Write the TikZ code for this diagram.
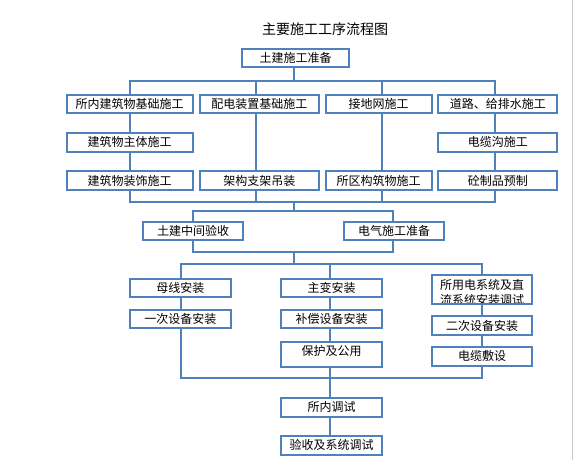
\documentclass[tikz,border=0pt]{standalone}
\usepackage{fontspec}
\setmainfont{Noto Sans CJK SC}
\definecolor{lnblue}{HTML}{4F81BD}
\definecolor{edgegray}{HTML}{CCCCCC}
\tikzset{
  box/.style={draw=lnblue, line width=2pt, fill=white, inner sep=0pt, outer sep=0pt,
    font=\fontsize{12}{12}\selectfont, text=black},
  conn/.style={draw=lnblue, line width=2pt},
  ttl/.style={font=\fontsize{14}{14}\selectfont, text=black}
}
\begin{document}
\begin{tikzpicture}[x=1pt,y=-1pt]
\useasboundingbox (0,0) rectangle (574,460);
\draw[edgegray, line width=1pt] (572.5,0) -- (572.5,460);
\node[ttl] (title) at (325,29) {主要施工工序流程图};
% column / bus coordinates
\coordinate (cA) at (130,0);
\coordinate (cB) at (255.7,0);
\coordinate (cC) at (381.7,0);
\coordinate (cD) at (495,0);
\coordinate (cM) at (294,0);
\coordinate (cE1) at (193.3,0);
\coordinate (cE2) at (393.3,0);
\coordinate (cF) at (180.7,0);
\coordinate (cG) at (330,0);
\coordinate (cH) at (482.3,0);
\coordinate (y1) at (0,81.3);
\coordinate (y2) at (0,201.7);
\coordinate (y3) at (0,210.7);
\coordinate (y4) at (0,252.3);
\coordinate (y5) at (0,264);
\coordinate (y6) at (0,378.3);
% boxes
\node[box, minimum width=106.7pt, minimum height=18.3pt] (top) at (295.65,58.15) {土建施工准备};
\node[box, minimum width=126pt, minimum height=18.3pt] (a1) at (129.7,104.15) {所内建筑物基础施工};
\node[box, minimum width=118.7pt, minimum height=18.3pt] (b1) at (259.35,104.15) {配电装置基础施工};
\node[box, minimum width=106pt, minimum height=18.3pt] (c1) at (378.7,104.15) {接地网施工};
\node[box, minimum width=119pt, minimum height=18.3pt] (d1) at (497.8,104.15) {道路、给排水施工};
\node[box, minimum width=126pt, minimum height=19.3pt] (a2) at (129.7,142.35) {建筑物主体施工};
\node[box, minimum width=119pt, minimum height=19.3pt] (d2) at (497.8,142.35) {电缆沟施工};
\node[box, minimum width=126pt, minimum height=19pt] (a3) at (129.7,180.5) {建筑物装饰施工};
\node[box, minimum width=118.7pt, minimum height=19pt] (b3) at (259.35,180.5) {架构支架吊装};
\node[box, minimum width=106pt, minimum height=19pt] (c3) at (378.7,180.5) {所区构筑物施工};
\node[box, minimum width=119pt, minimum height=19pt] (d3) at (497.8,180.5) {砼制品预制};
\node[box, minimum width=100.6pt, minimum height=18pt] (e1) at (193,231) {土建中间验收};
\node[box, minimum width=100pt, minimum height=18pt] (e2) at (394,231) {电气施工准备};
\node[box, minimum width=100.7pt, minimum height=18pt] (f1) at (180.35,287.7) {母线安装};
\node[box, minimum width=101.3pt, minimum height=18pt] (g1) at (331.65,287.7) {主变安装};
\node[box, minimum width=100.6pt, minimum height=29pt] (h1) at (482,289.5) {};
\begin{scope}
  \clip (h1.south west) rectangle (h1.north east);
  \node[align=center, font=\fontsize{12}{15.5}\selectfont, text=black, inner sep=0pt] (h1t) at (482,292.6) {所用电系统及直\\流系统安装调试};
\end{scope}
\draw[lnblue, line width=2pt] (h1.south west) rectangle (h1.north east);
\node[box, minimum width=100.7pt, minimum height=18.3pt] (f2) at (180.35,319.15) {一次设备安装};
\node[box, minimum width=101.3pt, minimum height=18.3pt] (g2) at (331.65,319.15) {补偿设备安装};
\node[box, minimum width=101.3pt, minimum height=25pt] (g3) at (331.65,354.2) {};
\node[font=\fontsize{12}{12}\selectfont, text=black, inner sep=0pt] (g3t) at (331.65,350.7) {保护及公用};
\node[box, minimum width=100.6pt, minimum height=19pt] (h2) at (482,325.5) {二次设备安装};
\node[box, minimum width=100.6pt, minimum height=19pt] (h3) at (482,356.2) {电缆敷设};
\node[box, minimum width=101.3pt, minimum height=18.7pt] (k1) at (331.65,407.35) {所内调试};
\node[box, minimum width=101.3pt, minimum height=19.3pt] (k2) at (331.65,445.35) {验收及系统调试};
% connectors: top section
\draw[conn] (cM |- top.south) -- (cM |- y1);
\draw[conn] (cA |- a1.north) -- (cA |- y1) -- (cD |- y1) -- (cD |- d1.north);
\draw[conn] (cB |- b1.north) -- (cB |- y1);
\draw[conn] (cC |- c1.north) -- (cC |- y1);
\draw[conn] (cA |- a1.south) -- (cA |- a2.north);
\draw[conn] (cA |- a2.south) -- (cA |- a3.north);
\draw[conn] (cB |- b1.south) -- (cB |- b3.north);
\draw[conn] (cC |- c1.south) -- (cC |- c3.north);
\draw[conn] (cD |- d1.south) -- (cD |- d2.north);
\draw[conn] (cD |- d2.south) -- (cD |- d3.north);
% collect
\draw[conn] (cA |- a3.south) -- (cA |- y2) -- (cD |- y2) -- (cD |- d3.south);
\draw[conn] (cB |- b3.south) -- (cB |- y2);
\draw[conn] (cC |- c3.south) -- (cC |- y2);
\draw[conn] (cM |- y2) -- (cM |- y3);
\draw[conn] (cE1 |- e1.north) -- (cE1 |- y3) -- (cE2 |- y3) -- (cE2 |- e2.north);
\draw[conn] (cE1 |- e1.south) -- (cE1 |- y4) -- (cE2 |- y4) -- (cE2 |- e2.south);
\draw[conn] (cM |- y4) -- (cM |- y5);
\draw[conn] (cF |- f1.north) -- (cF |- y5) -- (cH |- y5) -- (cH |- h1.north);
\draw[conn] (cG |- g1.north) -- (cG |- y5);
\draw[conn] (cF |- f1.south) -- (cF |- f2.north);
\draw[conn] (cG |- g1.south) -- (cG |- g2.north);
\draw[conn] (cG |- g2.south) -- (cG |- g3.north);
\draw[conn] (cH |- h1.south) -- (cH |- h2.north);
\draw[conn] (cH |- h2.south) -- (cH |- h3.north);
\draw[conn] (cF |- f2.south) -- (cF |- y6) -- (cH |- y6) -- (cH |- h3.south);
\draw[conn] (cG |- g3.south) -- (cG |- k1.north);
\draw[conn] (cG |- k1.south) -- (cG |- k2.north);
\end{tikzpicture}
\end{document}
